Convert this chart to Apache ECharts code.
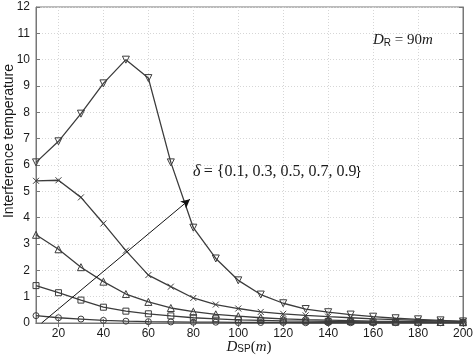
<!DOCTYPE html>
<html><head><meta charset="utf-8">
<script src="https://cdn.jsdelivr.net/npm/echarts@6/dist/echarts.min.js"></script>
<style>html,body{margin:0;padding:0;background:#fff}#c{width:474px;height:356px}</style>
</head><body><div id="c"></div>
<script>
const dsp = [10,20,30,40,50,60,70,80,90,100,110,120,130,140,150,160,170,180,190,200];
const xTicks = [20,40,60,80,100,120,140,160,180,200];
const yTicks = [0,1,2,3,4,5,6,7,8,9,10,11,12];
const delta09 = [6.1,6.9,7.95,9.1,10.0,9.3,6.1,3.62,2.45,1.62,1.08,0.75,0.53,0.41,0.32,0.24,0.18,0.14,0.10,0.06];
const delta07 = [5.4,5.42,4.77,3.78,2.75,1.82,1.38,0.95,0.7,0.55,0.42,0.35,0.29,0.24,0.2,0.16,0.13,0.1,0.08,0.06];
const delta05 = [3.35,2.8,2.12,1.57,1.1,0.8,0.57,0.43,0.33,0.26,0.2,0.16,0.13,0.11,0.09,0.07,0.06,0.05,0.04,0.03];
const delta03 = [1.42,1.15,0.87,0.6,0.45,0.35,0.27,0.2,0.16,0.12,0.1,0.08,0.07,0.06,0.05,0.04,0.03,0.03,0.02,0.02];
const delta01 = [0.28,0.2,0.15,0.1,0.07,0.05,0.04,0.03,0.03,0.02,0.02,0.02,0.01,0.01,0.01,0.01,0.01,0.01,0.01,0.01];
const arrowStart = [12.5, 0];
const arrowEnd = [78.5, 4.7];

const lineColor = '#3c3c3c';
const sans = '"Liberation Sans", Arial, sans-serif';
const serif = '"Liberation Serif", "DejaVu Serif", serif';

function mk(name, data, symbol, size, rotate) {
  return {
    name, type: 'line', data: dsp.map((x,i)=>[x,data[i]]),
    symbol, symbolSize: size, symbolRotate: rotate || 0, showAllSymbol: true,
    lineStyle: {color: lineColor, width: 1.3},
    itemStyle: {color: 'rgba(255,255,255,0)', borderColor: lineColor, borderWidth: 1},
    z: 3
  };
}
const chart = echarts.init(document.getElementById('c'), null, {renderer: 'canvas'});
const axisLineStyle = {show: true, lineStyle: {color: '#777', width: 1}};
chart.setOption({
  animation: false,
  grid: {left: 36, right: 11, top: 7, bottom: 33, show: true, borderColor: '#777', borderWidth: 1,
         containLabel: false, outerBoundsMode: 'none'},
  xAxis: [{
    type: 'value', min: 10, max: 200,
    axisLine: axisLineStyle,
    axisTick: {show: true, inside: true, length: 4, customValues: xTicks, lineStyle: {color: '#777'}},
    axisLabel: {customValues: xTicks, color: '#1a1a1a', fontFamily: sans, fontSize: 12, margin: 5},
    splitLine: {show: true, lineStyle: {color: '#d6d6d6', type: [1,2], width: 1}}
  }, {
    type: 'value', min: 10, max: 200, position: 'top',
    axisLine: axisLineStyle,
    axisTick: {show: true, inside: true, length: 4, customValues: xTicks, lineStyle: {color: '#777'}},
    axisLabel: {show: false}, splitLine: {show: false}
  }],
  yAxis: [{
    type: 'value', min: 0, max: 12, interval: 1,
    axisLine: axisLineStyle,
    axisTick: {show: true, inside: true, length: 4, lineStyle: {color: '#777'}},
    axisLabel: {color: '#1a1a1a', fontFamily: sans, fontSize: 12, margin: 6},
    splitLine: {show: true, lineStyle: {color: '#d6d6d6', type: [1,2], width: 1}}
  }, {
    type: 'value', min: 0, max: 12, interval: 1, position: 'right',
    axisLine: axisLineStyle,
    axisTick: {show: true, inside: true, length: 4, lineStyle: {color: '#777'}},
    axisLabel: {show: false}, splitLine: {show: false}
  }],
  series: [
    mk('0.9', delta09, 'triangle', 7, 180),
    mk('0.7', delta07, 'path://M0,0L10,10M10,0L0,10', 6),
    mk('0.5', delta05, 'triangle', 7),
    mk('0.3', delta03, 'rect', 6),
    Object.assign(mk('0.1', delta01, 'circle', 6), {
      markLine: {
        silent: true, symbol: ['none', 'arrow'], symbolSize: [7, 9],
        lineStyle: {color: '#111', width: 1, type: 'solid'}, label: {show: false},
        data: [[{coord: arrowStart}, {coord: arrowEnd}]]
      }
    })
  ],
  graphic: [{
    type: 'text', x: 9, y: 141, rotation: Math.PI / 2, z: 10,
    style: {
      text: 'Interference temperature', fontFamily: sans, fontSize: 14, fill: '#1a1a1a',
      align: 'center', verticalAlign: 'middle'
    }
  }, {
    type: 'text', x: 249, y: 347, z: 10,
    style: {
      text: '{it|D}{sub|SP}{n|(}{it|m}{n|)}', align: 'center', verticalAlign: 'middle',
      rich: {
        it: {fontFamily: serif, fontStyle: 'italic', fontSize: 15, fill: '#1a1a1a'},
        sub: {fontFamily: sans, fontSize: 10, fill: '#1a1a1a', verticalAlign: 'bottom', padding: [5,0,0,0]},
        n: {fontFamily: serif, fontSize: 15, fill: '#1a1a1a'}
      }
    }
  }, {
    type: 'text', left: 193, top: 164, z: 10,
    style: {
      text: '{it|δ} {n|= {0.1, 0.3, 0.5, 0.7, 0.9}}',
      rich: {
        it: {fontFamily: serif, fontStyle: 'italic', fontSize: 16, fill: '#1a1a1a'},
        n: {fontFamily: serif, fontSize: 16, fill: '#1a1a1a'}
      }
    }
  }, {
    type: 'text', left: 373, top: 33, z: 10,
    style: {
      text: '{it|D}{sub|R}{n| = 90}{it|m}',
      rich: {
        it: {fontFamily: serif, fontStyle: 'italic', fontSize: 15, fill: '#1a1a1a'},
        sub: {fontFamily: sans, fontSize: 10, fill: '#1a1a1a', verticalAlign: 'bottom', padding: [6,0,0,0]},
        n: {fontFamily: serif, fontSize: 15, fill: '#1a1a1a'}
      }
    }
  }]
});
</script></body></html>
